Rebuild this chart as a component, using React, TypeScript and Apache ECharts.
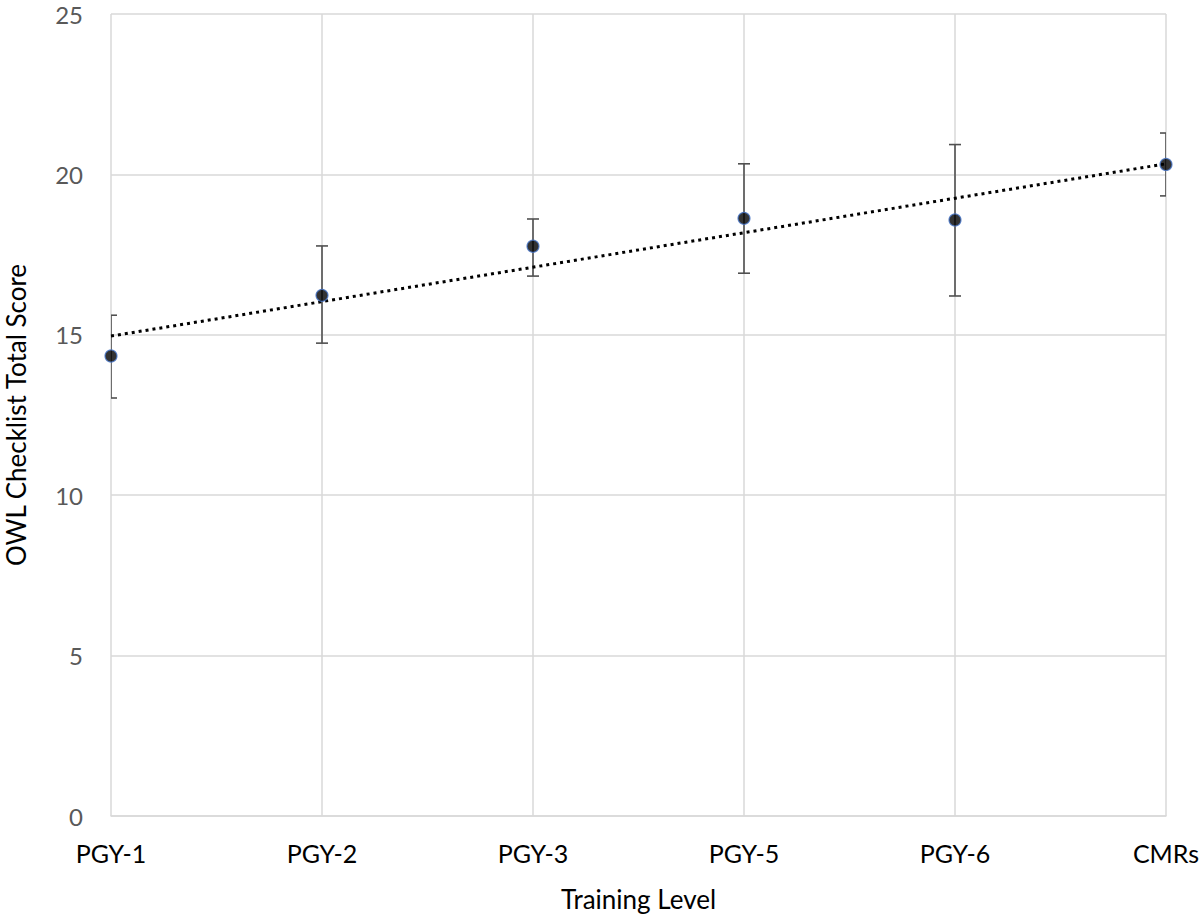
import React, { useEffect, useRef } from "react";
import * as echarts from "echarts";

const categories = ["PGY-1", "PGY-2", "PGY-3", "PGY-5", "PGY-6", "CMRs"];
const means = [14.34, 16.23, 17.76, 18.63, 18.58, 20.31];
const lows = [13.03, 14.74, 16.83, 16.92, 16.21, 19.33];
const highs = [15.61, 17.77, 18.61, 20.33, 20.93, 21.29];
const trendStart = 14.96;
const trendEnd = 20.33;
const yTicks = { min: 0, max: 25, interval: 5 };

const FONT = "Lato, 'Open Sans', sans-serif";

export default function App() {
  const ref = useRef<HTMLDivElement>(null);

  useEffect(() => {
    document.body.style.margin = "0";
    if (!ref.current) return;
    const chart = echarts.init(ref.current, undefined, { renderer: "svg" });

    const trendData = categories.map((_, i) =>
      i === 0 ? trendStart : i === categories.length - 1 ? trendEnd : null
    );
    const errData = categories.map((_, i) => [i, lows[i], highs[i]]);

    chart.setOption({
      animation: false,
      backgroundColor: "#ffffff",
      textStyle: { fontFamily: FONT },
      grid: {
        left: 111,
        right: 34,
        top: 14,
        bottom: 99,
        containLabel: false,
        outerBoundsMode: "none",
      },
      xAxis: {
        type: "category",
        data: categories,
        boundaryGap: false,
        axisTick: { show: false },
        axisLine: { lineStyle: { color: "#d9d9d9", width: 1.5 } },
        splitLine: { show: true, lineStyle: { color: "#d9d9d9", width: 1.5 } },
        axisLabel: { color: "#000000", fontSize: 25, fontFamily: FONT, margin: 24 },
        name: "Training Level",
        nameLocation: "middle",
        nameGap: 70,
        nameTextStyle: { color: "#000000", fontSize: 26, fontFamily: FONT },
      },
      yAxis: {
        type: "value",
        min: yTicks.min,
        max: yTicks.max,
        interval: yTicks.interval,
        axisLine: { show: false },
        axisTick: { show: false },
        splitLine: { show: true, lineStyle: { color: "#d9d9d9", width: 1.5 } },
        axisLabel: { color: "#595959", fontSize: 24, lineHeight: 20, fontFamily: FONT, margin: 28 },
        name: "OWL Checklist Total Score",
        nameLocation: "middle",
        nameGap: 82,
        nameRotate: 90,
        nameTextStyle: { color: "#000000", fontSize: 26, fontFamily: FONT },
      },
      series: [
        {
          type: "custom",
          name: "error",
          clip: true,
          z: 2,
          data: errData,
          encode: { x: 0, y: [1, 2] },
          renderItem: (params: any, api: any) => {
            const idx = api.value(0);
            const pLo = api.coord([idx, api.value(1)]);
            const pHi = api.coord([idx, api.value(2)]);
            const hw = 6;
            const style = { stroke: "#505050", lineWidth: 1.6 };
            return {
              type: "group",
              children: [
                { type: "line", shape: { x1: pHi[0], y1: pHi[1], x2: pLo[0], y2: pLo[1] }, style },
                { type: "line", shape: { x1: pHi[0] - hw, y1: pHi[1], x2: pHi[0] + hw, y2: pHi[1] }, style },
                { type: "line", shape: { x1: pLo[0] - hw, y1: pLo[1], x2: pLo[0] + hw, y2: pLo[1] }, style },
              ],
            };
          },
        },
        {
          type: "line",
          name: "trend",
          data: trendData,
          connectNulls: true,
          symbol: "none",
          z: 3,
          lineStyle: { color: "#000000", width: 3, type: [3, 4], cap: "butt" },
        },
        {
          type: "scatter",
          name: "mean",
          data: means,
          symbol: "circle",
          symbolSize: 12,
          z: 4,
          itemStyle: { color: "#000000", borderColor: "#4472C4", borderWidth: 1.2 },
        },
      ],
    });

    return () => chart.dispose();
  }, []);

  return <div ref={ref} style={{ width: 1200, height: 915 }} />;
}
